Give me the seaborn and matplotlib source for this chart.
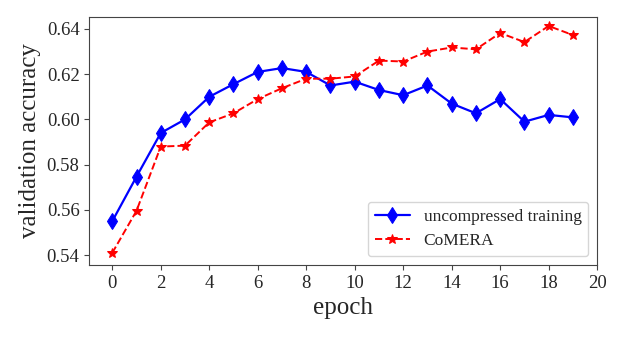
import numpy as np
import pandas as pd
import matplotlib
matplotlib.use('Agg')
import matplotlib.pyplot as plt
import seaborn as sns

# values
epochs = list(range(20))
uncompressed = [0.555, 0.5747, 0.594, 0.600, 0.610, 0.6156, 0.621, 0.6227, 0.621, 0.615,
                0.6167, 0.613, 0.6107, 0.615, 0.607, 0.6027, 0.609, 0.599, 0.602, 0.6009]
comera = [0.541, 0.5596, 0.588, 0.5884, 0.5987, 0.6027, 0.609, 0.6138, 0.618, 0.618,
          0.619, 0.626, 0.6256, 0.630, 0.6318, 0.631, 0.6382, 0.6342, 0.6413, 0.6373]

sns.set_style("ticks")
plt.rcParams['font.family'] = ['Liberation Serif', 'DejaVu Serif']

fig, ax = plt.subplots(figsize=(6.24, 3.39), dpi=100)

sns.lineplot(x=epochs, y=uncompressed, ax=ax, color='blue', marker='d', markersize=8,
             markeredgecolor='blue', linewidth=1.6, label='uncompressed training')
sns.lineplot(x=epochs, y=comera, ax=ax, color='red', marker='*', markersize=7,
             markeredgecolor='red', linewidth=1.4, linestyle='--', label='CoMERA')

ax.set_xlim(-0.95, 20)
ax.set_ylim(0.5356, 0.6453)
ax.set_xticks(range(0, 21, 2))
ax.set_yticks([0.54, 0.56, 0.58, 0.60, 0.62, 0.64])
ax.set_yticklabels(['0.54', '0.56', '0.58', '0.60', '0.62', '0.64'])
ax.tick_params(labelsize=13.5, color='#444444')
ax.set_xlabel('epoch', fontsize=18)
ax.set_ylabel('validation accuracy', fontsize=18)
for s in ax.spines.values():
    s.set_visible(True)
    s.set_color('#444444')
ax.legend(loc='lower right', fontsize=12.5)

plt.subplots_adjust(left=0.143, right=0.957, top=0.95, bottom=0.218)
plt.savefig('out.png', dpi=100)
